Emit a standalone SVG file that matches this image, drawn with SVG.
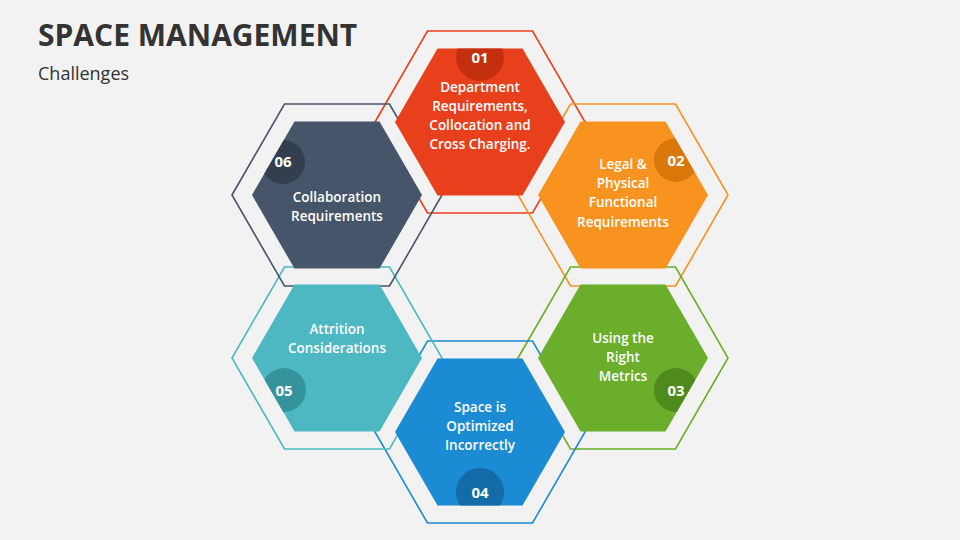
<svg xmlns="http://www.w3.org/2000/svg" width="960" height="540" viewBox="0 0 960 540">
<defs>
<style>
.o{fill:none;stroke-width:1.6}
.t{font-family:"Open Sans","Liberation Sans",sans-serif;font-size:13.5px;font-weight:600;fill:#fff;text-anchor:middle}
.n{font-family:"Open Sans","Liberation Sans",sans-serif;font-size:15px;font-weight:700;fill:#fff;text-anchor:middle}
</style>
<path id="hin" d="M-85,0 L-42.5,-73.6 L42.5,-73.6 L85,0 L42.5,73.6 L-42.5,73.6 Z"/>
<path id="hout" d="M-105,0 L-52.5,-91 L52.5,-91 L105,0 L52.5,91 L-52.5,91 Z"/>
<clipPath id="c1"><use href="#hin" x="480" y="122"/></clipPath>
<clipPath id="c2"><use href="#hin" x="623" y="195"/></clipPath>
<clipPath id="c3"><use href="#hin" x="623" y="358"/></clipPath>
<clipPath id="c4"><use href="#hin" x="480" y="432"/></clipPath>
<clipPath id="c5"><use href="#hin" x="337" y="358"/></clipPath>
<clipPath id="c6"><use href="#hin" x="337" y="195"/></clipPath>
</defs>
<rect width="960" height="540" fill="#f2f2f2"/>
<text x="38" y="46" font-family="'Open Sans','Liberation Sans',sans-serif" font-size="30" font-weight="700" fill="#333">SPACE MANAGEMENT</text>
<text x="38" y="80" font-family="'Open Sans','Liberation Sans',sans-serif" font-size="18" fill="#333">Challenges</text>
<g id="outlines">
<use href="#hout" x="480" y="122" class="o" stroke="#e8401c"/>
<use href="#hout" x="623" y="195" class="o" stroke="#f7931e"/>
<use href="#hout" x="623" y="358" class="o" stroke="#6aae2b"/>
<use href="#hout" x="480" y="432" class="o" stroke="#1b8bd3"/>
<use href="#hout" x="337" y="358" class="o" stroke="#4db8c2"/>
<use href="#hout" x="337" y="195" class="o" stroke="#465569"/>
</g>
<g id="n1"><use href="#hin" x="480" y="122" fill="#e8401c"/><circle cx="480" cy="57" r="24" fill="#c4300f" clip-path="url(#c1)"/><text class="n" x="480" y="63">01</text>
<text class="t" x="480" y="92">Department</text><text class="t" x="480" y="111">Requirements,</text><text class="t" x="480" y="130">Collocation and</text><text class="t" x="480" y="149">Cross Charging.</text></g>
<g id="n2"><use href="#hin" x="623" y="195" fill="#f7931e"/><circle cx="676" cy="160" r="22" fill="#d9770a" clip-path="url(#c2)"/><text class="n" x="676" y="166">02</text>
<text class="t" x="623" y="169">Legal &amp;</text><text class="t" x="623" y="188">Physical</text><text class="t" x="623" y="207">Functional</text><text class="t" x="623" y="227">Requirements</text></g>
<g id="n3"><use href="#hin" x="623" y="358" fill="#6aae2b"/><circle cx="676" cy="390" r="22" fill="#4e8a1c" clip-path="url(#c3)"/><text class="n" x="676" y="396">03</text>
<text class="t" x="623" y="343">Using the</text><text class="t" x="623" y="362">Right</text><text class="t" x="623" y="381">Metrics</text></g>
<g id="n4"><use href="#hin" x="480" y="432" fill="#1b8bd3"/><circle cx="480" cy="492" r="24" fill="#136ba8" clip-path="url(#c4)"/><text class="n" x="480" y="498">04</text>
<text class="t" x="480" y="412">Space is</text><text class="t" x="480" y="431">Optimized</text><text class="t" x="480" y="450">Incorrectly</text></g>
<g id="n5"><use href="#hin" x="337" y="358" fill="#4db8c2"/><circle cx="284" cy="390" r="22" fill="#35939c" clip-path="url(#c5)"/><text class="n" x="284" y="396">05</text>
<text class="t" x="337" y="334">Attrition</text><text class="t" x="337" y="353">Considerations</text></g>
<g id="n6"><use href="#hin" x="337" y="195" fill="#465569"/><circle cx="283" cy="162" r="22" fill="#333f4f" clip-path="url(#c6)"/><text class="n" x="283" y="167">06</text>
<text class="t" x="337" y="202">Collaboration</text><text class="t" x="337" y="221">Requirements</text></g>
</svg>
